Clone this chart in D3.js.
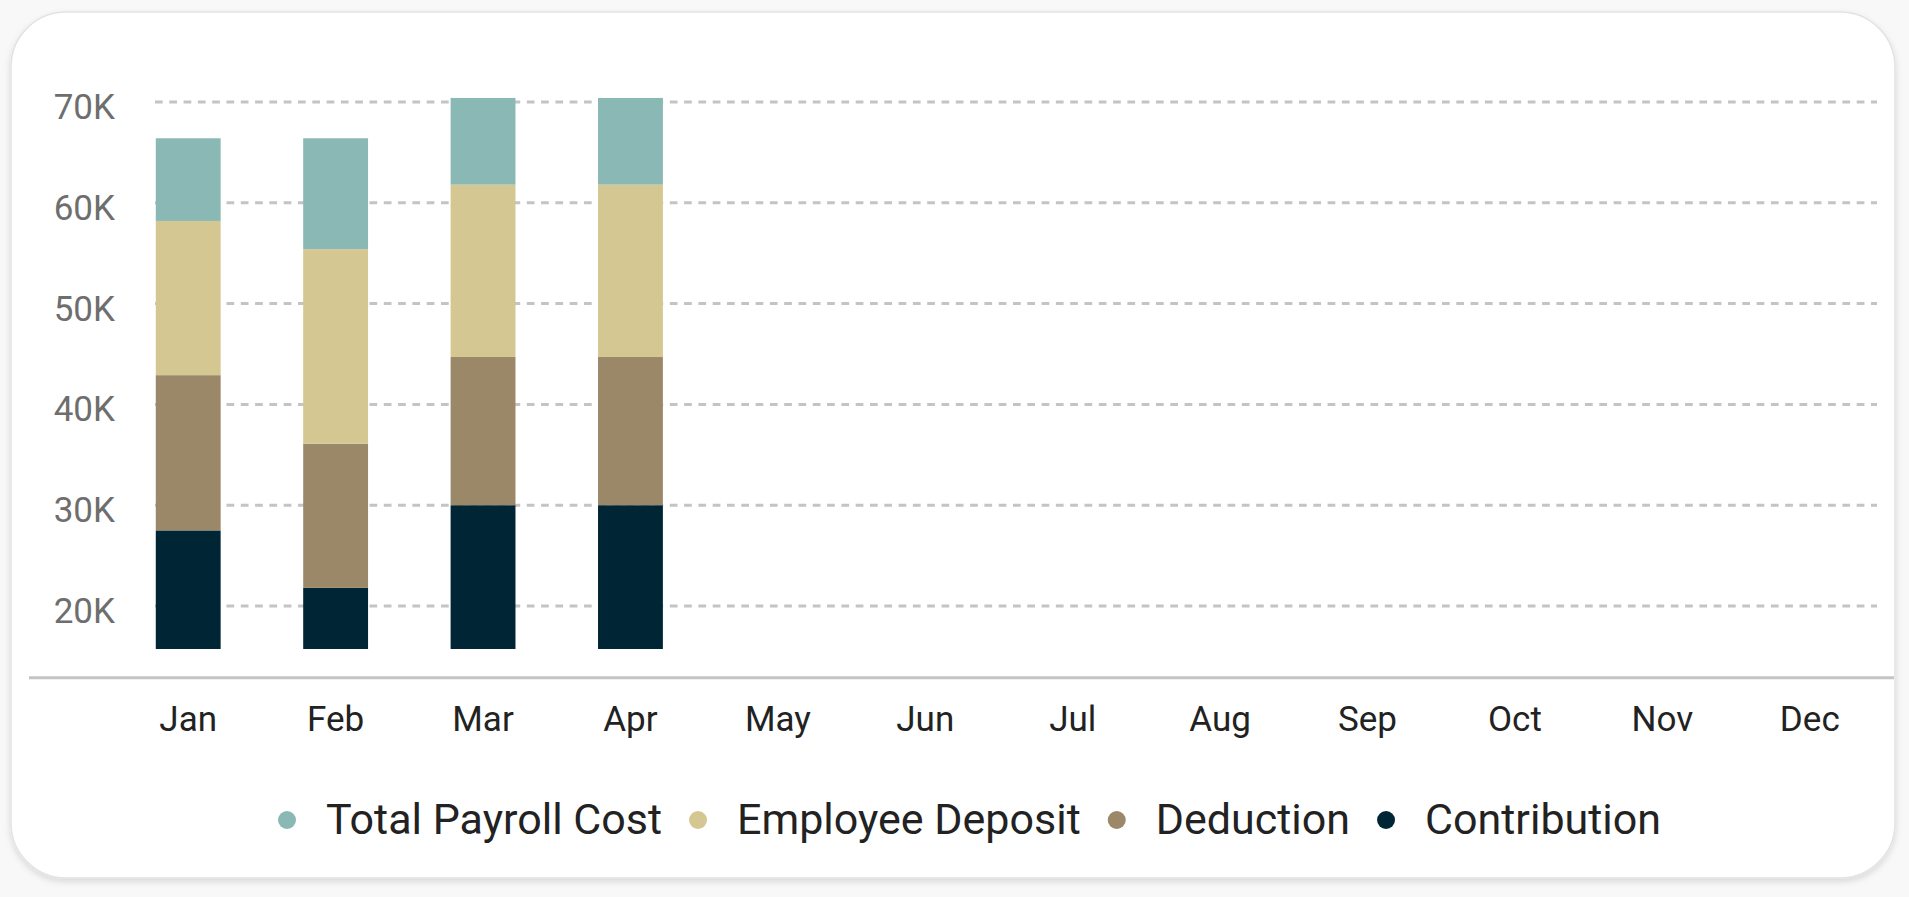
<!DOCTYPE html>
<html>
<head>
<meta charset="utf-8">
<script src="https://cdn.jsdelivr.net/npm/d3@7"></script>
<style>
  html, body { margin: 0; padding: 0; background: #f8f8f8; }
  svg { display: block; font-family: Roboto, "Noto Sans", sans-serif; }
</style>
</head>
<body>
<svg id="chart" width="1909" height="897"></svg>
<script>
// ---- data ----
const months = ["Jan", "Feb", "Mar", "Apr", "May", "Jun", "Jul", "Aug", "Sep", "Oct", "Nov", "Dec"];
const dataMonths = ["Jan", "Feb", "Mar", "Apr"];
const contribution     = [27500, 21800, 30000, 30000];
const deduction        = [15400, 14300, 14700, 14700];
const employeeDeposit  = [15300, 19300, 17100, 17100];
const totalPayrollCost = [8200, 11000, 8600, 8600];
const yTicks = [20000, 30000, 40000, 50000, 60000, 70000];
const yTickLabels = ["20K", "30K", "40K", "50K", "60K", "70K"];
const legendNames = ["Total Payroll Cost", "Employee Deposit", "Deduction", "Contribution"];
const stackKeys = ["Contribution", "Deduction", "Employee Deposit", "Total Payroll Cost"];
const colors = {
  "Total Payroll Cost": "#8ab9b5",
  "Employee Deposit": "#d4c792",
  "Deduction": "#9a8869",
  "Contribution": "#002535"
};

// ---- build table ----
const table = dataMonths.map((m, i) => ({
  month: m,
  "Contribution": contribution[i],
  "Deduction": deduction[i],
  "Employee Deposit": employeeDeposit[i],
  "Total Payroll Cost": totalPayrollCost[i]
}));

const svg = d3.select("#chart");

// drop shadow
const defs = svg.append("defs");
const f = defs.append("filter").attr("id", "shadow").attr("x", "-5%").attr("y", "-5%").attr("width", "110%").attr("height", "115%");
f.append("feDropShadow").attr("dx", 0).attr("dy", 3).attr("stdDeviation", 3)
  .attr("flood-color", "#000").attr("flood-opacity", 0.13);

// card
svg.append("rect")
  .attr("x", 11).attr("y", 12).attr("width", 1884).attr("height", 866)
  .attr("rx", 55).attr("ry", 55)
  .attr("fill", "#ffffff").attr("stroke", "#e3e3e3").attr("stroke-width", 1.5)
  .attr("filter", "url(#shadow)");

// scales
const x = d3.scaleBand().domain(months).range([114.5, 1883.5]).padding(0);
const y = d3.scaleLinear().domain([15734, 72000]).range([649, 81.84]).clamp(true);
const barW = x.bandwidth() * 0.44;

// gridlines
svg.append("g").selectAll("line").data(yTicks).join("line")
  .attr("x1", 155).attr("x2", 1877)
  .attr("y1", d => y(d)).attr("y2", d => y(d))
  .attr("stroke", "#c4c4c4").attr("stroke-width", 3)
  .attr("stroke-dasharray", "7.7,6.6");

// y labels
svg.append("g").selectAll("text").data(yTicks).join("text")
  .attr("x", 115).attr("y", d => y(d) + 17)
  .attr("text-anchor", "end")
  .attr("font-size", 35).attr("fill", "#6e6e6e")
  .text((d, i) => yTickLabels[i]);

// stacked bars
const stack = d3.stack().keys(stackKeys);
const series = stack(table);
svg.append("g").selectAll("g").data(series).join("g")
  .attr("fill", s => colors[s.key])
  .selectAll("rect").data(s => s).join("rect")
  .attr("x", d => x(d.data.month) + x.bandwidth() / 2 - barW / 2)
  .attr("width", barW)
  .attr("y", d => y(d[1]))
  .attr("height", d => y(d[0]) - y(d[1]));

// x axis line
svg.append("line")
  .attr("x1", 29).attr("x2", 1894).attr("y1", 677.7).attr("y2", 677.7)
  .attr("stroke", "#c4c4c4").attr("stroke-width", 3);

// month labels
svg.append("g").selectAll("text").data(months).join("text")
  .attr("x", d => x(d) + x.bandwidth() / 2)
  .attr("y", 731)
  .attr("text-anchor", "middle")
  .attr("font-size", 35).attr("fill", "#222222")
  .text(d => d);

// legend
const lg = svg.append("g");
let cx = 287;
legendNames.forEach(name => {
  lg.append("circle").attr("cx", cx).attr("cy", 820).attr("r", 9).attr("fill", colors[name]);
  const t = lg.append("text").attr("x", cx + 39).attr("y", 834)
    .attr("font-size", 43).attr("fill", "#222222").text(name);
  const w = t.node().getComputedTextLength();
  cx = cx + 39 + w + 36;
});
</script>
</body>
</html>
